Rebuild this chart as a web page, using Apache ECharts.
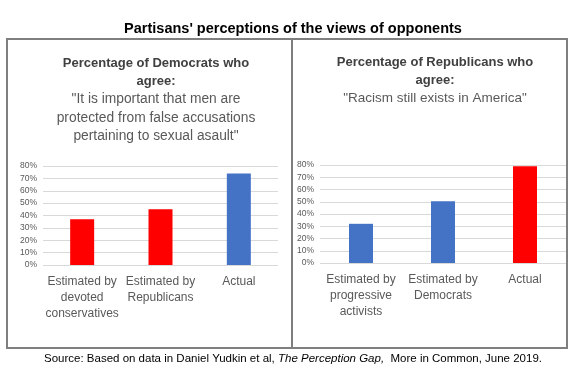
<!DOCTYPE html>
<html>
<head>
<meta charset="utf-8">
<script src="https://cdn.jsdelivr.net/npm/echarts@6/dist/echarts.min.js"></script>
<style>html,body{margin:0;padding:0;background:#fff}#c{width:575px;height:383px}</style>
</head>
<body>
<div id="c"></div>
<script>
var leftCategories = ['Estimated by\ndevoted\nconservatives', 'Estimated by\nRepublicans', 'Actual'];
var leftValues = [37, 45, 74];
var rightCategories = ['Estimated by\nprogressive\nactivists', 'Estimated by\nDemocrats', 'Actual'];
var rightValues = [32, 50.5, 79];
var yTicks = [0, 10, 20, 30, 40, 50, 60, 70, 80];

var RED = '#FF0000', BLUE = '#4472C4';
var leftColors = [RED, RED, BLUE];
var rightColors = [BLUE, BLUE, RED];

var FONT = 'Liberation Sans';
var chart = echarts.init(document.getElementById('c'), null, {renderer: 'canvas'});

function yAxis(idx) {
  return {
    gridIndex: idx, type: 'value', min: yTicks[0], max: yTicks[yTicks.length - 1], interval: 10,
    axisLine: {show: false}, axisTick: {show: false},
    axisLabel: {formatter: '{value}%', fontFamily: FONT, fontSize: 8.5, color: '#595959', margin: 6},
    splitLine: {lineStyle: {color: '#d9d9d9', width: 1}}
  };
}
function xAxis(idx, cats) {
  return {
    gridIndex: idx, type: 'category', data: cats,
    axisLine: {show: false}, axisTick: {show: false},
    axisLabel: {fontFamily: FONT, fontSize: 12, color: '#595959', lineHeight: 16, margin: 9, interval: 0}
  };
}
function series(idx, vals, cols) {
  return {
    type: 'bar', xAxisIndex: idx, yAxisIndex: idx, barWidth: 24,
    data: vals.map(function (v, i) { return {value: v, itemStyle: {color: cols[i]}}; })
  };
}

chart.setOption({
  animation: false,
  title: [
    {text: "Partisans' perceptions of the views of opponents", left: 288, top: 16, textAlign: 'center',
     textStyle: {fontFamily: FONT, fontSize: 14.5, fontWeight: 'bold', color: '#000'}},
    {text: 'Percentage of Democrats who\nagree:', left: 151, top: 49, textAlign: 'center',
     textStyle: {fontFamily: FONT, fontSize: 13, fontWeight: 'bold', color: '#404040', lineHeight: 18.5}},
    {text: '"It is important that men are\nprotected from false accusations\npertaining to sexual asault"', left: 151, top: 85, textAlign: 'center',
     textStyle: {fontFamily: FONT, fontSize: 13.8, fontWeight: 'normal', color: '#595959', lineHeight: 18.5}},
    {text: 'Percentage of Republicans who\nagree:', left: 430, top: 48, textAlign: 'center',
     textStyle: {fontFamily: FONT, fontSize: 13, fontWeight: 'bold', color: '#404040', lineHeight: 18}},
    {text: '"Racism still exists in America"', left: 430, top: 84, textAlign: 'center',
     textStyle: {fontFamily: FONT, fontSize: 13.5, fontWeight: 'normal', color: '#595959', lineHeight: 18}},
    {text: '{n|Source: Based on data in Daniel Yudkin et al, }{i|The Perception Gap,}{n|  More in Common, June 2019.}',
     left: 288, top: 348, textAlign: 'center',
     textStyle: {rich: {
       n: {fontFamily: FONT, fontSize: 11.5, color: '#000', fontWeight: 'normal'},
       i: {fontFamily: FONT, fontSize: 11.5, color: '#000', fontStyle: 'italic', fontWeight: 'normal'}
     }}}
  ],
  grid: [
    {left: 43, right: 297, top: 166, bottom: 118},
    {left: 320, right: 9, top: 165, bottom: 120}
  ],
  xAxis: [xAxis(0, leftCategories), xAxis(1, rightCategories)],
  yAxis: [yAxis(0), yAxis(1)],
  series: [series(0, leftValues, leftColors), series(1, rightValues, rightColors)],
  graphic: [
    {type: 'rect', shape: {x: 7, y: 39, width: 560, height: 309}, style: {fill: 'none', stroke: '#7f7f7f', lineWidth: 2}, z: 10},
    {type: 'line', shape: {x1: 292, y1: 39, x2: 292, y2: 348}, style: {stroke: '#7f7f7f', lineWidth: 2}, z: 10}
  ]
});
</script>
</body>
</html>
